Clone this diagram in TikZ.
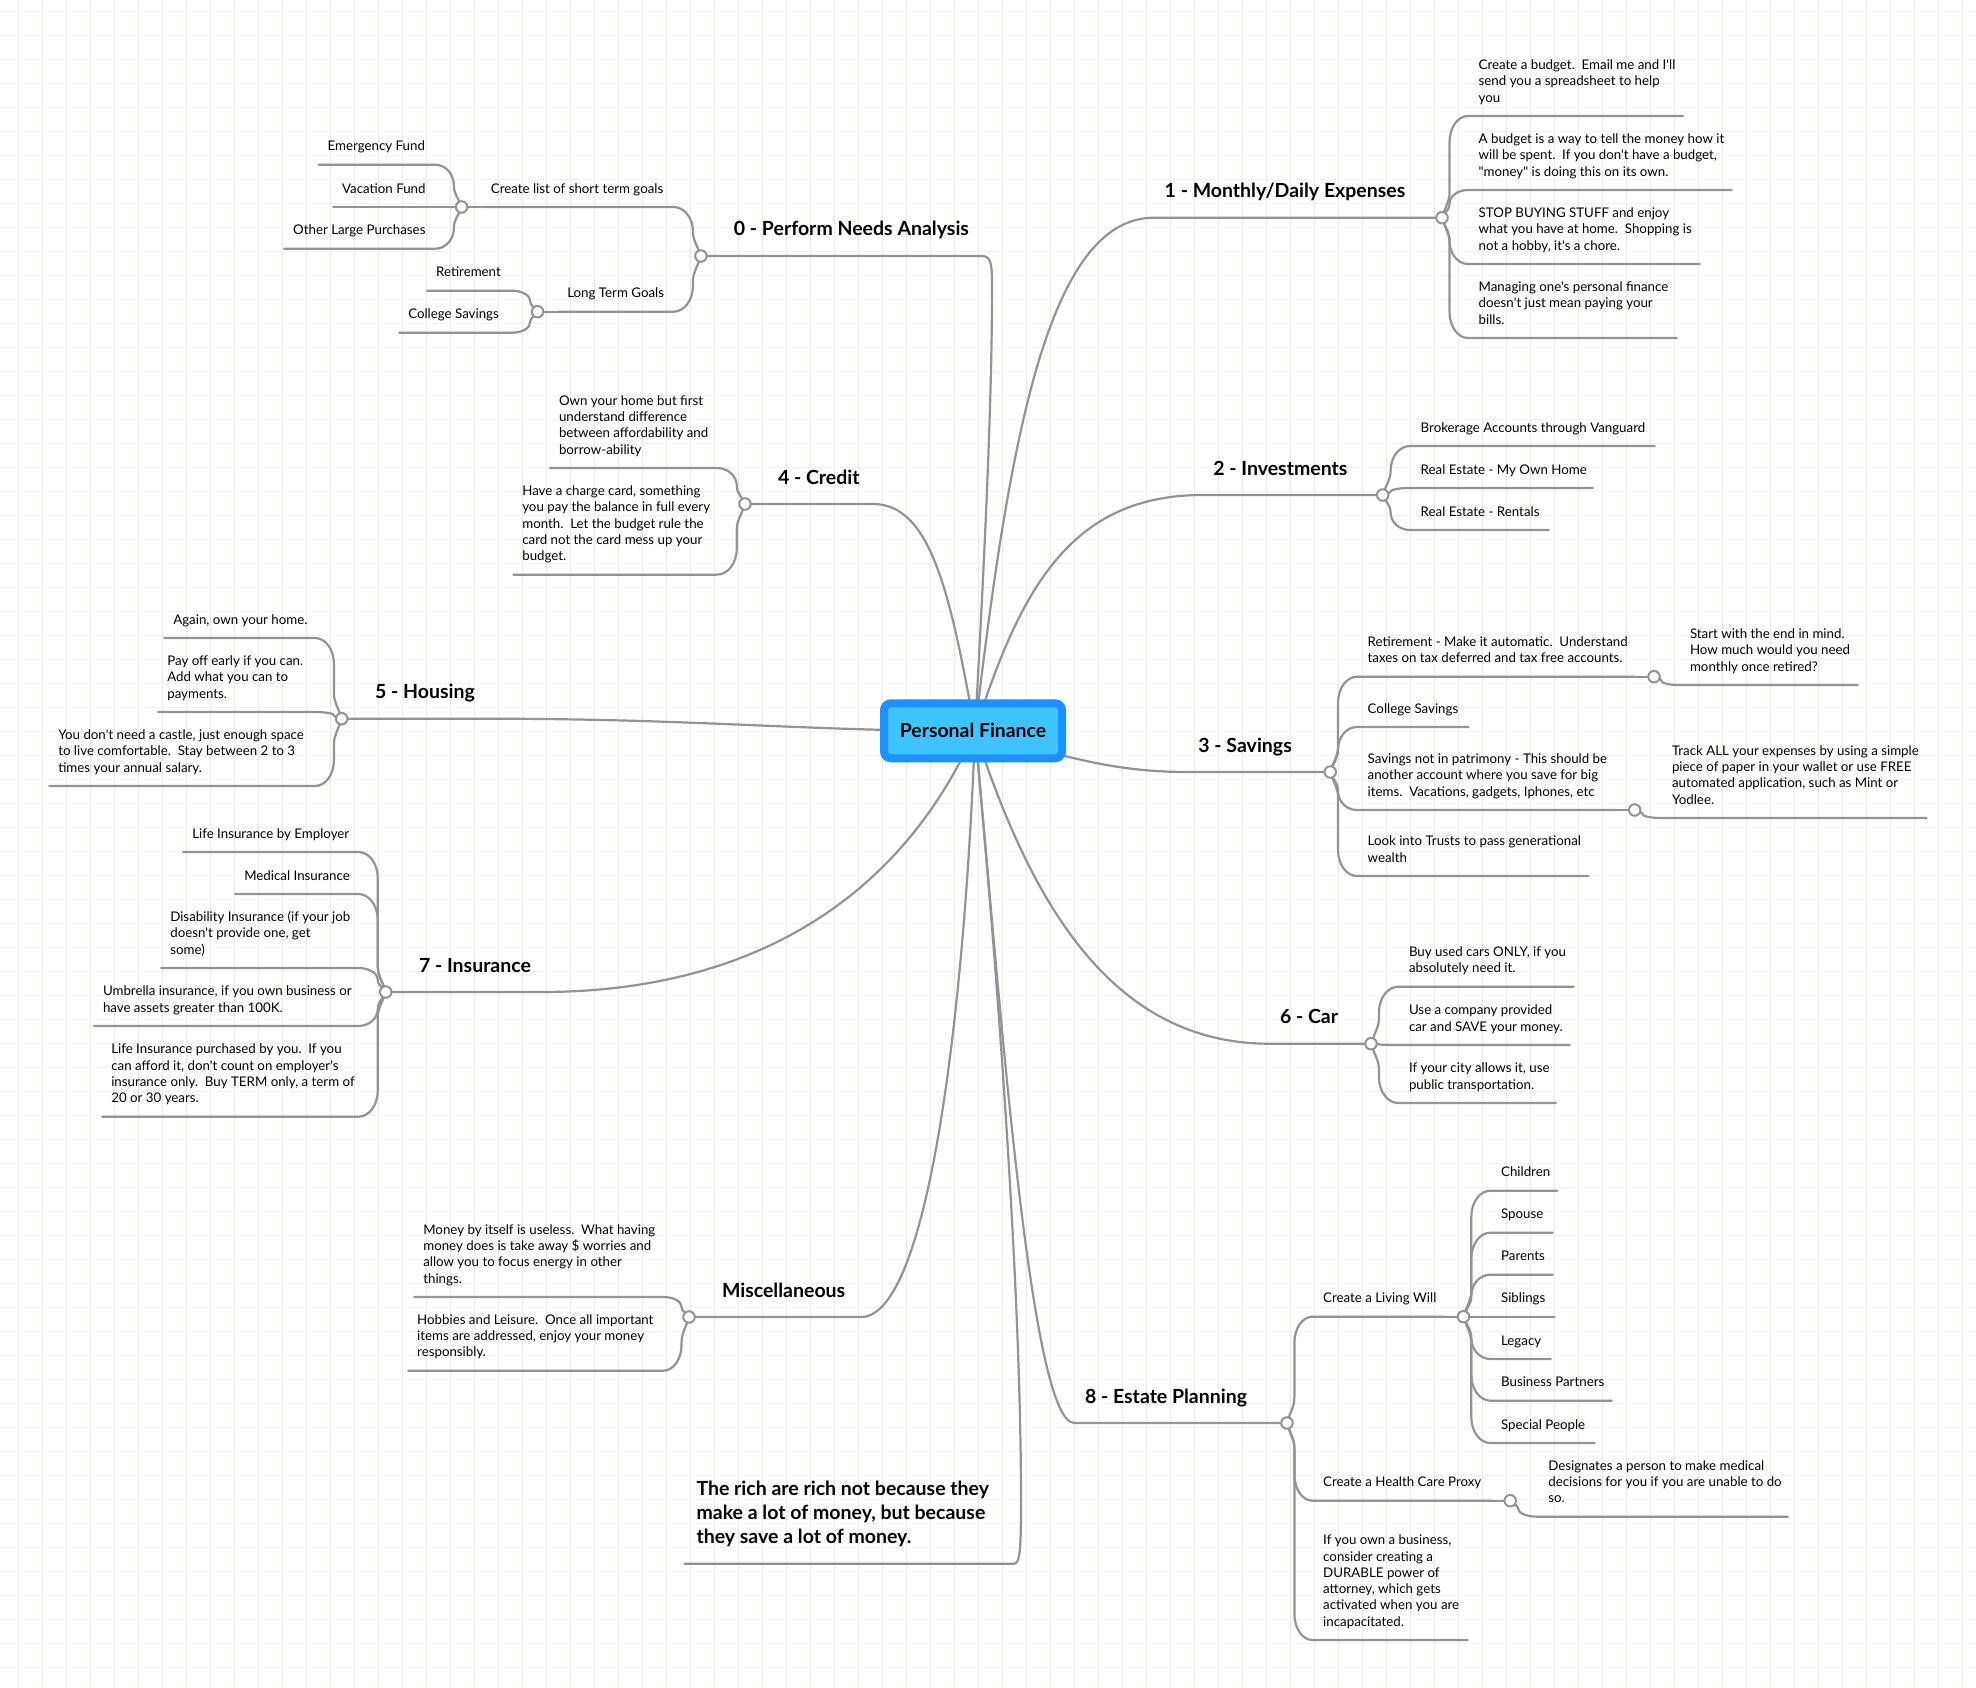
\documentclass[tikz,border=0pt]{standalone}
\usepackage{fontspec}
\newfontfamily\mapfont{Lato}
\usetikzlibrary{calc}
\pgfdeclarelayer{bg}
\pgfsetlayers{bg,main}
\definecolor{linkgrey}{HTML}{939393}
\definecolor{gridv}{HTML}{E4EEDB}
\definecolor{gridh}{HTML}{F0F5EB}
\definecolor{rootedge}{HTML}{1E90FF}
\definecolor{rootfill}{HTML}{40C4FF}
\tikzset{
  link/.style={draw=linkgrey,line width=2.2pt,line cap=round,line join=round},
  knob/.style={circle,draw=linkgrey,fill=white,line width=2pt,minimum size=11.5pt,inner sep=0pt,outer sep=0pt},
  body/.style={font=\mapfont\fontsize{13.3}{16.25}\selectfont,inner ysep=9.1pt,outer sep=0pt,text=black},
  head/.style={font=\mapfont\fontsize{19.5}{24}\selectfont\bfseries,inner ysep=12.8pt,outer sep=0pt,text=black},
  rootbox/.style={draw=rootedge,fill=rootfill,line width=8pt,rounded corners=7pt,minimum width=178pt,minimum height=55pt,inner sep=0pt,
    font=\mapfont\fontsize{19.4}{24}\selectfont\bfseries,text=black}
}
% style, side padding, name, x0, x1, y of underline, lines
\newcommand\nd[7]{%
  \pgfmathsetlengthmacro\boxw{#5-#4-2*#2}%
  \node[#1,inner xsep=#2pt,anchor=south west] (#3) at (#4,#6)
    {\makebox[\boxw][l]{\begin{tabular}[b]{@{}l@{}}#7\end{tabular}}};}
% connector from knob #1 out to the near end of underline of node #2, along to its far end
\newcommand\arm[3]{%
  \draw[link] let \p1=(#1.center),\p2=(#2),\n1={\x2-\x1},\n2={\y2-\y1},\n4={max(min(\n2/2,26),-26)} in
   (\p1) .. controls (\x1+.15*\n1,\y1+.5*\n4) and (\x1+.29*\n1,\y1+.6*\n4) .. (\x1+.29*\n1,\y1+\n4)
   -- (\x1+.29*\n1,\y2-\n4) .. controls (\x1+.29*\n1,\y2-.45*\n4) and (\x1+.6*\n1,\y2) .. (\p2) -- (#3);}
\newcommand\armR[2]{\arm{#1}{#2.south west}{#2.south east}}
\newcommand\armL[2]{\arm{#1}{#2.south east}{#2.south west}}
\begin{document}
\begin{tikzpicture}[x=1pt,y=-1pt]
\useasboundingbox (0,0) rectangle (1976,1688);
\begin{pgfonlayer}{bg}
\fill[white] (0,0) rectangle (1976,1688);
\foreach \k in {0,...,82} \draw[gridv,line width=1pt] ({18.5+24*\k},0) -- ({18.5+24*\k},1688);
\foreach \k in {0,...,70} \draw[gridh,line width=1pt] (0,{11.5+24*\k}) -- (1976,{11.5+24*\k});
\end{pgfonlayer}

\node[rootbox] (root) at (973,730.8) {Personal Finance};
\coordinate (hub) at (975,731);

% ---------- knobs
\node[knob] (c0) at (700.9,256) {};
\node[knob] (c00) at (461.6,207) {};
\node[knob] (c01) at (537.6,311.7) {};
\node[knob] (c1) at (1442,217.7) {};
\node[knob] (c2) at (1382.7,495) {};
\node[knob] (c3) at (1330.3,772) {};
\node[knob] (c30) at (1654,676.7) {};
\node[knob] (c32) at (1634.7,810) {};
\node[knob] (c4) at (745,504) {};
\node[knob] (c5) at (341.7,718.7) {};
\node[knob] (c6) at (1371,1043.7) {};
\node[knob] (c7) at (385.7,992) {};
\node[knob] (c8) at (1287,1423) {};
\node[knob] (c80) at (1463.5,1316.7) {};
\node[knob] (c81) at (1510.2,1500.7) {};
\node[knob] (cm) at (689,1317) {};

% ---------- 0
\nd{head}{10.7}{n0}{723.2}{981.5}{256}{0 - Perform Needs Analysis}
\nd{body}{9}{n00}{481.9}{673.5}{207}{Create list of short term goals}
\nd{body}{9}{n01}{558.3}{673.5}{311.7}{Long Term Goals}
\nd{body}{9}{a1}{318.6}{435.2}{164.7}{Emergency Fund}
\nd{body}{9}{a2}{333.2}{435.2}{207}{Vacation Fund}
\nd{body}{9}{a3}{284.2}{435.2}{248.7}{Other Large Purchases}
\nd{body}{9}{a4}{427.1}{512}{290.7}{Retirement}
\nd{body}{9}{a5}{399.3}{512}{332.7}{College Savings}
% ---------- 1
\nd{head}{10.7}{n1}{1154}{1411}{217.7}{1 - Monthly/Daily Expenses}
\nd{body}{10.7}{b1}{1468}{1683}{116}{Create a budget.\ \ Email me and I'll\\send you a spreadsheet to help\\you}
\nd{body}{10.7}{b2}{1468}{1731.7}{190}{A budget is a way to tell the money how it\\will be spent.\ \ If you don't have a budget,\\"money" is doing this on its own.}
\nd{body}{10.7}{b3}{1468}{1699.7}{264}{STOP BUYING STUFF and enjoy\\what you have at home.\ \ Shopping is\\not a hobby, it's a chore.}
\nd{body}{10.7}{b4}{1468}{1676.7}{338}{Managing one's personal finance\\doesn't just mean paying your\\bills.}
% ---------- 2
\nd{head}{10.7}{n2}{1202.6}{1358.4}{495}{2 - Investments}
\nd{body}{10.7}{d1}{1410}{1654.7}{446}{Brokerage Accounts through Vanguard}
\nd{body}{10.7}{d2}{1410}{1592.7}{488}{Real Estate - My Own Home}
\nd{body}{10.7}{d3}{1410}{1548.7}{530}{Real Estate - Rentals}
% ---------- 3
\nd{head}{10.7}{n3}{1187.7}{1303.7}{772}{3 - Savings}
\nd{body}{10.7}{e1}{1357}{1635}{676.7}{Retirement - Make it automatic.\ \ Understand\\taxes on tax deferred and tax free accounts.}
\nd{body}{10.7}{e1a}{1679.3}{1857.7}{685}{Start with the end in mind.\\How much would you need\\monthly once retired?}
\nd{body}{10.7}{e2}{1357}{1468.4}{727}{College Savings}
\nd{body}{10.7}{e3}{1357}{1616}{810}{Savings not in patrimony - This should be\\another account where you save for big\\items.\ \ Vacations, gadgets, Iphones, etc}
\nd{body}{10.7}{e3a}{1661.3}{1926.5}{818}{Track ALL your expenses by using a simple\\piece of paper in your wallet or use FREE\\automated application, such as Mint or\\Yodlee.}
\nd{body}{10.7}{e4}{1357}{1588.6}{876}{Look into Trusts to pass generational\\wealth}
% ---------- 4
\nd{head}{10.7}{n4}{767.3}{873}{504}{4 - Credit}
\nd{body}{9}{f1}{550}{716.7}{468}{Own your home but first\\understand difference\\between affordability and\\borrow-ability}
\nd{body}{9}{f2}{513.3}{716.7}{574.7}{Have a charge card, something\\you pay the balance in full every\\month.\ \ Let the budget rule the\\card not the card mess up your\\budget.}
% ---------- 5
\nd{head}{10.7}{n5}{364.3}{484.7}{718.7}{5 - Housing}
\nd{body}{9}{g1}{164.3}{315}{638}{Again, own your home.}
\nd{body}{9}{g2}{158.3}{315}{712}{Pay off early if you can.\\Add what you can to\\payments.}
\nd{body}{9}{g3}{49.3}{315}{786}{You don't need a castle, just enough space\\to live comfortable.\ \ Stay between 2 to 3\\times your annual salary.}
% ---------- 6
\nd{head}{10.7}{n6}{1269.3}{1349}{1043.7}{6 - Car}
\nd{body}{10.7}{h1}{1398.3}{1573.7}{986.7}{Buy used cars ONLY, if you\\absolutely need it.}
\nd{body}{10.7}{h2}{1398.3}{1569.7}{1045}{Use a company provided\\car and SAVE your money.}
\nd{body}{10.7}{h3}{1398.3}{1555.7}{1103}{If your city allows it, use\\public transportation.}
% ---------- 7
\nd{head}{10.7}{n7}{408.3}{541.4}{992}{7 - Insurance}
\nd{body}{9}{i1}{183.3}{358.3}{852}{Life Insurance by Employer}
\nd{body}{9}{i2}{235.3}{358.3}{894}{Medical Insurance}
\nd{body}{9}{i3}{161.3}{358.3}{968}{Disability Insurance (if your job\\doesn't provide one, get\\some)}
\nd{body}{9}{i4}{94}{358.3}{1026}{Umbrella insurance, if you own business or\\have assets greater than 100K.}
\nd{body}{9}{i5}{102.3}{358.3}{1116.7}{Life Insurance purchased by you.\ \ If you\\can afford it, don't count on employer's\\insurance only.\ \ Buy TERM only, a term of\\20 or 30 years.}
% ---------- 8
\nd{head}{10.7}{n8}{1074.3}{1258.1}{1423}{8 - Estate Planning}
\nd{body}{10.7}{j1}{1312.5}{1445}{1316.7}{Create a Living Will}
\nd{body}{10.7}{j2}{1312.5}{1491.5}{1500.7}{Create a Health Care Proxy}
\nd{body}{10.7}{j3}{1312.5}{1467.7}{1640}{If you own a business,\\consider creating a\\DURABLE power of\\attorney, which gets\\activated when you are\\incapacitated.}
\nd{body}{10.7}{k1}{1490.4}{1557.4}{1190.7}{Children}
\nd{body}{10.7}{k2}{1490.4}{1552.7}{1232.7}{Spouse}
\nd{body}{10.7}{k3}{1490.4}{1552.7}{1274.7}{Parents}
\nd{body}{10.7}{k4}{1490.4}{1554.6}{1316.7}{Siblings}
\nd{body}{10.7}{k5}{1490.4}{1550.8}{1359}{Legacy}
\nd{body}{10.7}{k6}{1490.4}{1611.7}{1400.7}{Business Partners}
\nd{body}{10.7}{k7}{1490.4}{1594.7}{1443}{Special People}
\nd{body}{10.7}{j2a}{1537.6}{1787.7}{1516.7}{Designates a person to make medical\\decisions for you if you are unable to do\\so.}
% ---------- misc
\nd{head}{10.7}{nm}{711.3}{861}{1317}{Miscellaneous}
\nd{body}{9}{m1}{414.3}{663.3}{1297}{Money by itself is useless.\ \ What having\\money does is take away \$ worries and\\allow you to focus energy in other\\things.}
\nd{body}{9}{m2}{408.2}{663.3}{1370.7}{Hobbies and Leisure.\ \ Once all important\\items are addressed, enjoy your money\\responsibly.}
\nd{head}{12}{rich}{684.5}{1014}{1563.7}{The rich are rich not because they\\make a lot of money, but because\\they save a lot of money.}

\begin{pgfonlayer}{bg}
% root to branches
\draw[link] (hub) .. controls (985,550) and (992,400) .. (992,290) .. controls (992,265) and (992,256) .. (n0.south east) -- (c0);
\draw[link] (hub) .. controls (1010,430) and (1050,217.7) .. (n1.south west) -- (c1);
\draw[link] (hub) .. controls (1020,590) and (1070,495) .. (n2.south west) -- (c2);
\draw[link] (hub) .. controls (1060,755) and (1110,772) .. (n3.south west) -- (c3);
\draw[link] (hub) .. controls (950,590) and (930,504) .. (n4.south east) -- (c4);
\draw[link] (hub) .. controls (800,731) and (700,718.7) .. (n5.south east) -- (c5);
\draw[link] (hub) .. controls (1030,900) and (1110,1043.7) .. (n6.south west) -- (c6);
\draw[link] (hub) .. controls (900,900) and (750,992) .. (n7.south east) -- (c7);
\draw[link] (hub) .. controls (1000,1000) and (1030,1423) .. (n8.south west) -- (c8);
\draw[link] (hub) .. controls (965,1000) and (930,1317) .. (nm.south east) -- (cm);
\draw[link] (hub) .. controls (1000,1000) and (1021,1300) .. (1021,1500) .. controls (1021,1550) and (1020,1563.7) .. (rich.south east) -- (rich.south west);
% branch 0
\armL{c0}{n00}\draw[link] (n00.south west) -- (c00);
\armL{c0}{n01}\draw[link] (n01.south west) -- (c01);
\armL{c00}{a1}\armL{c00}{a2}\armL{c00}{a3}
\armL{c01}{a4}\armL{c01}{a5}
% branch 1
\armR{c1}{b1}\armR{c1}{b2}\armR{c1}{b3}\armR{c1}{b4}
% branch 2
\armR{c2}{d1}\armR{c2}{d2}\armR{c2}{d3}
% branch 3
\armR{c3}{e1}\draw[link] (e1.south east) -- (c30);
\armR{c3}{e2}
\armR{c3}{e3}\draw[link] (e3.south east) -- (c32);
\armR{c3}{e4}
\armR{c30}{e1a}\armR{c32}{e3a}
% branch 4, 5
\armL{c4}{f1}\armL{c4}{f2}
\armL{c5}{g1}\armL{c5}{g2}\armL{c5}{g3}
% branch 6
\armR{c6}{h1}\armR{c6}{h2}\armR{c6}{h3}
% branch 7
\armL{c7}{i1}\armL{c7}{i2}\armL{c7}{i3}\armL{c7}{i4}\armL{c7}{i5}
% branch 8
\armR{c8}{j1}\draw[link] (j1.south east) -- (c80);
\armR{c8}{j2}\draw[link] (j2.south east) -- (c81);
\armR{c8}{j3}
\armR{c80}{k1}\armR{c80}{k2}\armR{c80}{k3}\armR{c80}{k4}\armR{c80}{k5}\armR{c80}{k6}\armR{c80}{k7}
\armR{c81}{j2a}
% misc
\armL{cm}{m1}\armL{cm}{m2}
\end{pgfonlayer}
\end{tikzpicture}
\end{document}
